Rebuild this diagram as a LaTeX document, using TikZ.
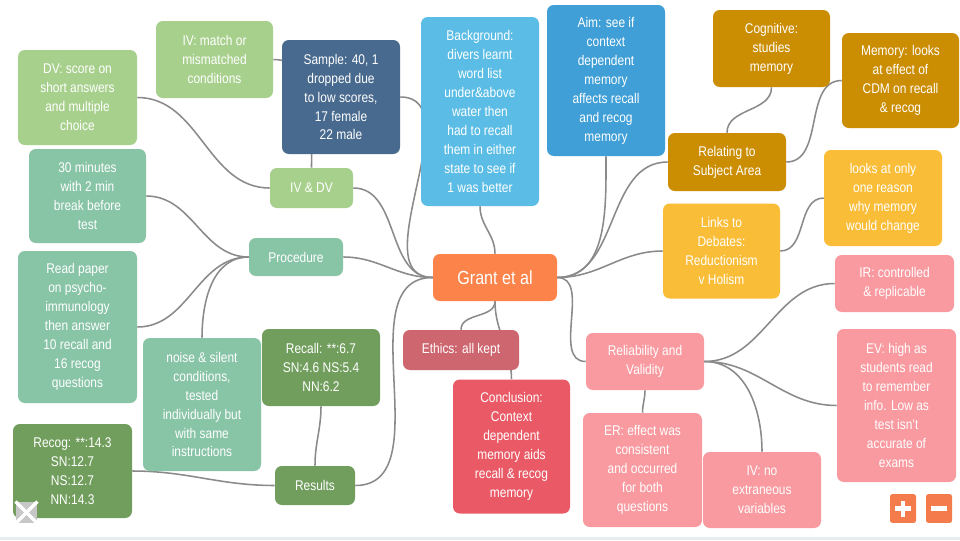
\documentclass[tikz,border=0pt]{standalone}
\usepackage{fontspec}
\setmainfont{Liberation Sans}[FakeStretch=0.85]
\usetikzlibrary{backgrounds}

\definecolor{lgreen}{HTML}{A8D08D}
\definecolor{sampleblue}{HTML}{486A8E}
\definecolor{teal}{HTML}{88C4A6}
\definecolor{dgreen}{HTML}{719E5D}
\definecolor{bgblue}{HTML}{5BBDE5}
\definecolor{aimblue}{HTML}{3F9FD6}
\definecolor{central}{HTML}{FC844A}
\definecolor{ethicsred}{HTML}{CE6670}
\definecolor{conclred}{HTML}{EA5A66}
\definecolor{gold}{HTML}{CB8D02}
\definecolor{yellow}{HTML}{FABD37}
\definecolor{pink}{HTML}{F99AA0}
\definecolor{linkgrey}{HTML}{8A8A8A}
\definecolor{btnorange}{HTML}{F47B4B}
\definecolor{bottomline}{HTML}{E6EEF2}

\begin{document}
\begin{tikzpicture}[
    x=0.025cm, y=-0.025cm,
    box/.style 2 args={rounded corners=0.17cm, text=white, align=center, inner sep=2pt,
        font=\fontsize{10}{13.5}\selectfont,
        minimum width=#1*0.025cm, minimum height=#2*0.025cm},
    link/.style={draw=linkgrey, line width=1.1pt},
    btn/.style={fill=btnorange, rounded corners=0.06cm, minimum width=0.65cm, minimum height=0.72cm}
]
    \useasboundingbox (0,0) rectangle (960,540);

    % centre of the map
    \node[box={124}{47}, fill=central, font=\fontsize{13.5}{16}\selectfont] (grant) at (495,277.5) {Grant et al};

    % left branch: IV & DV, Procedure, Results, Sample
    \node[box={83}{40}, fill=lgreen]       (ivdv)    at (311.5,188) {IV \& DV};
    \node[box={119}{95}, fill=lgreen]      (dv)      at (77.5,97.5) {DV: score on\\short answers\\and multiple\\choice};
    \node[box={117}{77}, fill=lgreen]      (ivmatch) at (214.5,59.5) {IV: match or\\mismatched\\conditions};
    \node[box={118}{114}, fill=sampleblue] (sample)  at (341,97) {Sample: 40, 1\\dropped due\\to low scores,\\17 female\\22 male};

    \node[box={94}{38}, fill=teal]   (proc)   at (296,257) {Procedure};
    \node[box={117}{94}, fill=teal]  (thirty) at (87.5,196) {30 minutes\\with 2 min\\break before\\test};
    \node[box={119}{152}, fill=teal] (paper)  at (77.5,327) {Read paper\\on psycho-\\immunology\\then answer\\10 recall and\\16 recog\\questions};
    \node[box={118}{133}, fill=teal] (noise)  at (202,404.5) {noise \& silent\\conditions,\\tested\\individually but\\with same\\instructions};

    \node[box={80}{39}, fill=dgreen]   (results) at (315,485.5) {Results};
    \node[box={118}{77}, fill=dgreen]  (recall)  at (321,367.5) {Recall: **:6.7\\SN:4.6 NS:5.4\\NN:6.2};
    \node[box={119}{94}, fill=dgreen]  (recog)   at (72.5,471) {Recog: **:14.3\\SN:12.7\\NS:12.7\\NN:14.3};

    % top and bottom of the centre
    \node[box={118}{189}, fill=bgblue]   (backg)  at (480,111.5) {Background:\\divers learnt\\word list\\under\&above\\water then\\had to recall\\them in either\\state to see if\\1 was better};
    \node[box={118}{151}, fill=aimblue]  (aim)    at (606,80.5) {Aim: see if\\context\\dependent\\memory\\affects recall\\and recog\\memory};
    \node[box={116}{40}, fill=ethicsred] (ethics) at (461,350) {Ethics: all kept};
    \node[box={117}{134}, fill=conclred] (concl)  at (511.5,446.5) {Conclusion:\\Context\\dependent\\memory aids\\recall \& recog\\memory};

    % right branch: subject area, debates, reliability and validity
    \node[box={118}{58}, fill=gold]  (relating) at (727,162) {Relating to\\Subject Area};
    \node[box={117}{77}, fill=gold]  (cog)      at (771.5,48.5) {Cognitive:\\studies\\memory};
    \node[box={117}{95}, fill=gold]  (memory)   at (900.5,80.5) {Memory: looks\\at effect of\\CDM on recall\\\& recog};

    \node[box={117}{95}, fill=yellow] (links) at (721.5,251) {Links to\\Debates:\\Reductionism\\v Holism};
    \node[box={118}{96}, fill=yellow] (looks) at (883,198) {looks at only\\one reason\\why memory\\would change};

    \node[box={118}{57}, fill=pink]  (rel)  at (645,361.5) {Reliability and\\Validity};
    \node[box={119}{57}, fill=pink]  (ir)   at (894.5,283.5) {IR: controlled\\\& replicable};
    \node[box={119}{153}, fill=pink] (ev)   at (896.5,405.5) {EV: high as\\students read\\to remember\\info. Low as\\test isn't\\accurate of\\exams};
    \node[box={119}{114}, fill=pink] (er)   at (642.5,470) {ER: effect was\\consistent\\and occurred\\for both\\questions};
    \node[box={118}{76}, fill=pink]  (ivno) at (762,490) {IV: no\\extraneous\\variables};

    % zoom buttons and move handle
    \node[btn] (plus)  at (903,508.5) {};
    \node[btn] (minus) at (939,508.5) {};
    \draw[white, line width=3pt] ([xshift=-0.2cm]plus.center) -- ([xshift=0.2cm]plus.center);
    \draw[white, line width=3pt] ([yshift=-0.2cm]plus.center) -- ([yshift=0.2cm]plus.center);
    \draw[white, line width=3pt] ([xshift=-0.2cm]minus.center) -- ([xshift=0.2cm]minus.center);
    \node[fill=black!22, minimum size=0.53cm, inner sep=0pt] (move) at (26.5,512.5) {};
    \draw[white, line width=2.5pt] (move.north west) -- (move.south east);
    \draw[white, line width=2.5pt] (move.north east) -- (move.south west);

    \begin{scope}[on background layer]
        \fill[white] (0,0) rectangle (960,540);
        \fill[bottomline] (0,537) rectangle (960,540);

        % centre to its children
        \draw[link] (grant.west) to[out=180, in=0] (ivdv.east);
        \draw[link] (grant.west) to[out=180, in=0] (proc.east);
        \draw[link] (grant.west) to[out=180, in=0] (sample.east);
        \draw[link] (grant.west) to[out=180, in=0] (results.east);
        \draw[link] (grant.north) to[out=90, in=-90] (backg.south);
        \draw[link] (grant.east) to[out=0, in=-90] (aim.south);
        \draw[link] (grant.south) to[out=-90, in=90] (ethics.north);
        \draw[link] (grant.south) to[out=-90, in=90] (concl.north);
        \draw[link] (grant.east) to[out=0, in=180] (relating.west);
        \draw[link] (grant.east) to[out=0, in=180] (links.west);
        \draw[link] (grant.east) to[out=0, in=180] (rel.west);

        % second level
        \draw[link] (ivdv.west) to[out=180, in=0] (dv.east);
        \draw[link] (ivdv.north) to[out=90, in=0] (ivmatch.east);
        \draw[link] (proc.west) to[out=180, in=0] (thirty.east);
        \draw[link] (proc.west) to[out=180, in=0] (paper.east);
        \draw[link] (proc.west) to[out=180, in=90] (noise.north);
        \draw[link] (results.north) to[out=90, in=-90] (recall.south);
        \draw[link] (results.west) to[out=180, in=0] (recog.east);
        \draw[link] (relating.north) to[out=90, in=-90] (cog.south);
        \draw[link] (relating.east) to[out=0, in=180] (memory.west);
        \draw[link] (links.east) to[out=0, in=180] (looks.west);
        \draw[link] (rel.east) to[out=0, in=180] (ir.west);
        \draw[link] (rel.east) to[out=0, in=180] (ev.west);
        \draw[link] (rel.east) to[out=0, in=90] (ivno.north);
        \draw[link] (rel.south) to[out=-90, in=90] (er.north);
    \end{scope}
\end{tikzpicture}
\end{document}
